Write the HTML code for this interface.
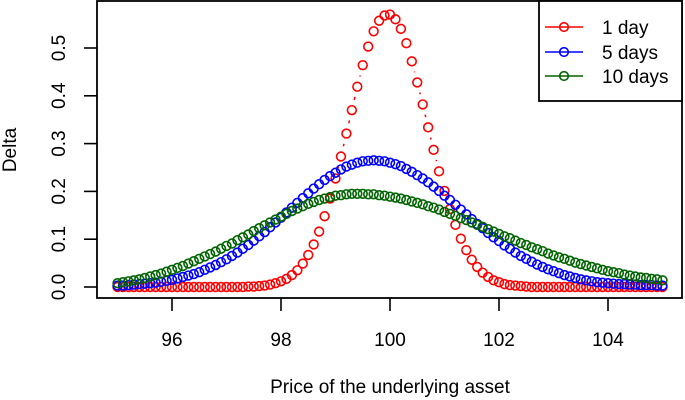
<!DOCTYPE html>
<html><head><meta charset="utf-8"><style>
html,body{margin:0;padding:0;background:#fff;}
svg{display:block;font-family:"Liberation Sans",sans-serif;}
</style></head><body>
<svg id="chart" width="685" height="400">
<rect x="97" y="1" width="585" height="297" fill="none" stroke="#000" stroke-width="1.8"/>
<g id="axes"></g>
<g id="series"></g>
<text x="16" y="150" font-size="19" text-anchor="middle" transform="rotate(-90 16 150)">Delta</text>
<text x="390" y="393" font-size="19" text-anchor="middle">Price of the underlying asset</text>
<g>
<rect x="539" y="1" width="143" height="100" fill="#fff" stroke="#000" stroke-width="1.8"/>
<g><line x1="545" y1="27" x2="583" y2="27" stroke="red" stroke-width="1.5"/><circle cx="564" cy="27" r="4.3" fill="none" stroke="red" stroke-width="1.6"/><text x="602" y="34" font-size="19">1 day</text></g>
<g><line x1="545" y1="52" x2="583" y2="52" stroke="blue" stroke-width="1.5"/><circle cx="564" cy="52" r="4.3" fill="none" stroke="blue" stroke-width="1.6"/><text x="602" y="59" font-size="19">5 days</text></g>
<g><line x1="545" y1="76" x2="583" y2="76" stroke="#006400" stroke-width="1.5"/><circle cx="564" cy="76" r="4.3" fill="none" stroke="#006400" stroke-width="1.6"/><text x="602" y="83" font-size="19">10 days</text></g>
</g>
</svg>
<script>
const xStart = 95, xStep = 0.1;
const xTicks = [96, 98, 100, 102, 104];
const yTicks = [0, 0.1, 0.2, 0.3, 0.4, 0.5];
const yTickLabels = ["0.0", "0.1", "0.2", "0.3", "0.4", "0.5"];
const oneDay = [0,0,0,0,0,0,0,0,0,0,0,0,0,0,0,0,0,0,0,0,0,0,0,0,
.001,.001,.002,.003,.005,.008,.012,.017,.025,.035,.049,.067,.089,.116,.148,.185,.227,.273,.321,.370,.419,.464,.503,.535,.557,.568,
.570,.560,.540,.510,.472,.428,.382,.334,.287,.242,.201,.163,.130,.101,.077,.057,.042,.030,.021,.014,.010,.006,.004,.003,.002,.001,
0,0,0,0,0,0,0,0,0,0,0,0,0,0,0,0,0,0,0,0,0,0,0,0,0];
const fiveDays = [.003,.003,.004,.005,.006,.007,.008,.009,.011,.013,.015,.018,.021,.024,.027,.031,.036,.041,.046,.052,.058,.065,.072,.080,.088,.097,.106,.115,.125,.135,.145,.156,.166,.176,.186,.196,.206,.215,.224,.232,.239,.246,.252,.256,.260,.263,.264,.265,
.264,.263,.260,.257,.253,.247,.241,.234,.227,.219,.210,.201,.191,.182,.172,.162,.152,.142,.132,.123,.113,.104,.096,.087,.080,.072,.065,.059,.053,.047,.042,.037,.033,.029,.025,.022,.019,.016,.014,.012,.010,.009,.008,.007,.006,.006,.005,.005,.004,.004,.004,.003,.003];
const tenDays = [.008,.010,.012,.014,.016,.019,.022,.025,.028,.032,.036,.040,.044,.049,.054,.059,.064,.069,.074,.080,.086,.091,.098,.104,.110,.117,.123,.129,.135,.141,.147,.153,.159,.164,.169,.174,.178,.182,.185,.188,.191,.192,.194,.195,.195,
.195,.194,.194,.192,.191,.189,.187,.185,.182,.179,.176,.173,.169,.166,.162,.157,.153,.149,.144,.140,.135,.130,.126,.121,.116,.111,.106,.102,.097,.092,.088,.083,.079,.075,.070,.066,.062,.059,.055,.051,.048,.045,.042,.039,.036,.033,.031,.029,.026,.024,.022,.020,.019,.017,.016,.014];

const NS = "http://www.w3.org/2000/svg";
function xs(v){ return 390 + (v - 100) * 54.5; }
function ys(v){ return 287 - v * 478; }
function mk(tag, attrs, parent){
  const e = document.createElementNS(NS, tag);
  for (const k in attrs) e.setAttribute(k, attrs[k]);
  parent.appendChild(e); return e;
}
const axes = document.getElementById('axes');
xTicks.forEach(t => {
  const l = mk('line', {x1: xs(t), x2: xs(t), y1: 298, y2: 311, stroke: '#000', 'stroke-width': 1.6}, axes);
  
  
  const tx = mk('text', {x: xs(t), y: 346, 'font-size': 19, 'text-anchor': 'middle'}, axes);
  tx.textContent = t;
  
  
});
yTicks.forEach((t, i) => {
  const l = mk('line', {x1: 84, x2: 97, y1: ys(t), y2: ys(t), stroke: '#000', 'stroke-width': 1.6}, axes);
  
  
  const tx = mk('text', {x: 0, y: 0, 'font-size': 19, 'text-anchor': 'middle', transform: 'translate(65,' + ys(t) + ') rotate(-90)'}, axes);
  tx.textContent = yTickLabels[i];
  
  
});
const series = document.getElementById('series');
function drawSeries(vals, color, name){
  const g = mk('g', {}, series);
  
  
  for (let i = 1; i < vals.length; i++){
    const x1 = xs(xStart + (i-1)*xStep), y1 = ys(vals[i-1]);
    const x2 = xs(xStart + i*xStep), y2 = ys(vals[i]);
    const L = Math.hypot(x2-x1, y2-y1), gap = 10.5;
    if (L > 2*gap + 0.5){
      const ux = (x2-x1)/L, uy = (y2-y1)/L;
      mk('line', {x1: x1+ux*gap, y1: y1+uy*gap, x2: x2-ux*gap, y2: y2-uy*gap, stroke: color, 'stroke-width': 1.5}, g);
    }
  }
  vals.forEach((v, i) => {
    const c = mk('circle', {cx: xs(xStart + i*xStep), cy: ys(v), r: 4.4, fill: 'none', stroke: color, 'stroke-width': 1.6}, g);
    
    
  });
}
drawSeries(oneDay, 'red', 'series-1-day');
drawSeries(fiveDays, 'blue', 'series-5-days');
drawSeries(tenDays, '#006400', 'series-10-days');
</script>
</body></html>
